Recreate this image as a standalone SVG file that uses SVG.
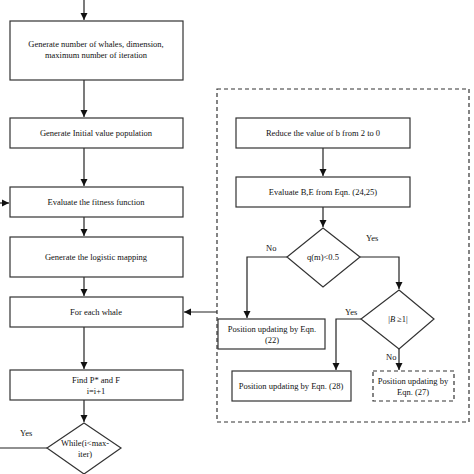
<svg xmlns="http://www.w3.org/2000/svg" width="474" height="474" viewBox="0 0 474 474">
<defs>
<marker id="ah" markerWidth="8" markerHeight="8" refX="7" refY="4" orient="auto" markerUnits="userSpaceOnUse">
<path d="M0,0.5 L7,4 L0,7.5 Z" fill="#111"/>
</marker>
<style>
.b{fill:#fff;stroke:#333;stroke-width:1.2}
.d{fill:#fff;stroke:#333;stroke-width:1.2;stroke-dasharray:4,3}
.c{fill:none;stroke:#222;stroke-width:1.2}
.t{font-family:"Liberation Serif","Times New Roman",serif;font-size:8.5px;fill:#111;text-anchor:middle}
.l{font-family:"Liberation Serif","Times New Roman",serif;font-size:8.5px;fill:#111}
</style>
</defs>
<rect width="474" height="474" fill="#fff"/>
<g id="loop-frame"><rect x="217" y="89" width="252" height="333" class="d" fill="none"/></g>
<g id="connectors">
<path class="c" d="M84,0 V20" marker-end="url(#ah)"/>
<path class="c" d="M84,80 V117" marker-end="url(#ah)"/>
<path class="c" d="M84,148 V186" marker-end="url(#ah)"/>
<path class="c" d="M0,203 H9" marker-end="url(#ah)"/>
<path class="c" d="M84,217 V236" marker-end="url(#ah)"/>
<path class="c" d="M84,277 V296" marker-end="url(#ah)"/>
<path class="c" d="M84,327 V369" marker-end="url(#ah)"/>
<path class="c" d="M84,400 V422" marker-end="url(#ah)"/>
<path class="c" d="M47,448 H0"/>
<path class="c" d="M84,474 V480"/>
<path class="c" d="M217,312 H184" marker-end="url(#ah)"/>
<path class="c" d="M323,148 V176" marker-end="url(#ah)"/>
<path class="c" d="M323,207 V227" marker-end="url(#ah)"/>
<path class="c" d="M287,257 H247 V318" marker-end="url(#ah)"/>
<path class="c" d="M360,257 H399 V289" marker-end="url(#ah)"/>
<path class="c" d="M361,319 H336 V370" marker-end="url(#ah)"/>
<path class="c" d="M399,349 V370" marker-end="url(#ah)"/>
</g>
<g id="n-init"><rect x="10" y="21" width="173" height="59" class="b"/><text class="t" x="96" y="47">Generate number of whales, dimension,</text><text class="t" x="96" y="58">maximum number of iteration</text></g>
<g id="n-pop"><rect x="10" y="118" width="173" height="30" class="b"/><text class="t" x="96" y="136">Generate Initial value population</text></g>
<g id="n-fit"><rect x="10" y="187" width="173" height="30" class="b"/><text class="t" x="96" y="205">Evaluate the fitness function</text></g>
<g id="n-log"><rect x="10" y="237" width="173" height="40" class="b"/><text class="t" x="96" y="260">Generate the logistic mapping</text></g>
<g id="n-each"><rect x="10" y="297" width="173" height="30" class="b"/><text class="t" x="96" y="315">For each whale</text></g>
<g id="n-find"><rect x="10" y="370" width="173" height="30" class="b"/><text class="t" x="96" y="383">Find P* and F</text><text class="t" x="96" y="394">i=i+1</text></g>
<g id="n-while"><path d="M84,423 L121,448 L84,474 L47,448 Z" class="b"/><text class="t" x="85" y="446">While(i&lt;max-</text><text class="t" x="85" y="457">iter)</text><text class="l" x="20" y="436">Yes</text></g>
<g id="n-reduce"><rect x="236" y="118" width="174" height="30" class="b"/><text class="t" x="323" y="136">Reduce the value of b from 2 to 0</text></g>
<g id="n-evalBE"><rect x="236" y="177" width="174" height="30" class="b"/><text class="t" x="323" y="195">Evaluate B,E from Eqn. (24,25)</text></g>
<g id="n-q"><path d="M323,228 L360,257 L323,287 L287,257 Z" class="b"/><text class="t" x="323" y="260">q(m)&lt;0.5</text><text class="l" x="266" y="251">No</text><text class="l" x="366" y="241">Yes</text></g>
<g id="n-B"><path d="M399,290 L434,319 L399,349 L361,319 Z" class="b"/><text class="t" x="398" y="322">|<tspan font-style="italic">B</tspan> ≥1|</text><text class="l" x="345" y="315">Yes</text><text class="l" x="386" y="360">No</text></g>
<g id="n-p22"><rect x="218" y="319" width="107" height="30" class="b"/><text class="t" x="272" y="332">Position updating by Eqn.</text><text class="t" x="272" y="343">(22)</text></g>
<g id="n-p28"><rect x="232" y="371" width="119" height="30" class="b"/><text class="t" x="291" y="389">Position updating by Eqn. (28)</text></g>
<g id="n-p27"><rect x="373" y="371" width="81" height="30" class="d"/><text class="t" x="413" y="384">Position updating by</text><text class="t" x="413" y="395">Eqn. (27)</text></g>
</svg>
